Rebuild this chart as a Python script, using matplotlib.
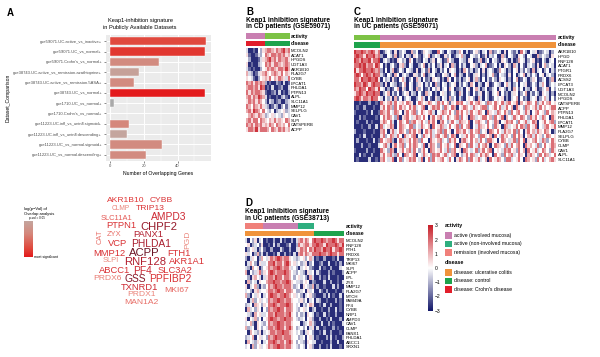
import numpy as np
import matplotlib
matplotlib.use('Agg')
import matplotlib.pyplot as plt
from matplotlib.colors import LinearSegmentedColormap
from matplotlib.patches import Rectangle

plt.rcParams['font.family'] = ['Liberation Sans', 'DejaVu Sans']

# ---------------- data: panel A bar chart ----------------
comparisons = [
    'gse59071.UC.active_vs_inactive+',
    'gse59071.UC_vs_normal+',
    "gse59071.Crohn's_vs_normal+",
    'gse38743.UC.active_vs_remission.azathioprine+',
    'gse38743.UC.active_vs_remission.5ASA+',
    'gse38743.UC_vs_normal+',
    'gse1710.UC_vs_normal+',
    "gse1710.Crohn's_vs_normal+",
    'gse11223.UC.infl_vs_uninfl.sigmoid+',
    'gse11223.UC.infl_vs_uninfl.descending+',
    'gse11223.UC_vs_normal.sigmoid+',
    'gse11223.UC_vs_normal.descending+',
]
n_overlap = [57, 56, 29, 17, 14, 56, 2, 0, 11, 10, 31, 21]
# relative significance of overlap (0 = p 0.05, 1 = most significant, nan = n.s.)
overlap_sig = [0.75, 0.85, 0.3, 0.05, 0.3, 1.0, np.nan, np.nan, 0.35, 0.0, 0.3, 0.3]

# ---------------- data: word cloud ----------------
cloud_genes = ['AKR1B10', 'CYBB', 'CLMP', 'TRIP13', 'SLC11A1', 'AMPD3', 'PTPN1', 'CHPF2',
               'CAT', 'ZYX', 'PANX1', 'PGD', 'VCP', 'PHLDA1', 'MMP12', 'ACPP', 'FTH1',
               'SLPI', 'RNF128', 'AKR1A1', 'ABCC1', 'PF4', 'SLC3A2', 'PRDX6', 'GSS',
               'PPFIBP2', 'TXNRD1', 'MKI67', 'PRDX1', 'MAN1A2']
cloud_freq = [5, 5, 3, 5, 4, 7, 6, 8, 4, 4, 6, 5, 6, 7, 6, 8, 6, 4, 8, 6, 6, 7, 6, 5, 7,
              7, 6, 5, 5, 5]
cloud_sig = [0.45, 0.5, 0.12, 0.5, 0.3, 0.6, 0.5, 0.85, 0.2, 0.2, 0.75, 0.1, 0.5, 0.78,
             0.5, 1.0, 0.5, 0.1, 0.75, 0.5, 0.5, 0.6, 0.5, 0.15, 0.9, 0.5, 0.6, 0.25,
             0.12, 0.2]

# ---------------- data: heatmaps ----------------
b_genes = ['MCOLN2', 'ACAT1', 'HPGDS', 'UGT1A3', 'AKR1B10', 'PLA2G7', 'CYBB', 'LPCAT1',
           'PHLDA1', 'PTPN13', 'ALPL', 'SLC11A1', 'MMP12', 'SELPLG', 'CAV1', 'SLPI',
           'CATSPERB', 'ACPP']
b_activity = ['active (involved mucosa)'] * 8 + ['normal'] * 11
b_disease = ["disease: Crohn's disease"] * 8 + ['disease: control'] * 11
b_rows = [
    "lNNBN.bp rRRrpRrRXrR", "pBNNBlb. RrpRRrRrRpr", ".bNNNBlp rRXrRpRrrRp",
    "pNBNNbl. RrRpRRrprRr", "lBNBNNb. pRrRrpRRrXr", "rlbNBlpr Rp.rRrpR.rp",
    "p.lBNb.p rpR.rpRrplR", "RrRpRrRr bNBNNbBNlNB", "rRRrRpXR NBNlNNBbNNl",
    "RpRrRRrp BNNBbNlNBNb", "rRpRrXRr lNBNNBNblBN", "pRrRpRr. bNlbNBbNNbl",
    "Rr.RrpRp lbNBlbNb.Bl", "rRpXRr.R .lb.Nbl.pbl", ".rRrpRrp bl.pl.lbp.l",
    "rRpRR.Rr p.rpRprp.Rr", "RrRpRrRp rpRr.Rrpr.R", "pRRrXpRR Rr.RrpRrRpr",
]

c_genes = ['AKR1B10', 'HPGD', 'RNF128', 'ACAT1', 'PTGR1', 'PRDX6', 'ACSS2', 'LPCAT3',
           'UGT1A3', 'MCOLN2', 'HPGDS', 'CATSPERB', 'ACPP', 'PTPN13', 'PHLDA1', 'LPCAT1',
           'MMP12', 'PLA2G7', 'SELPLG', 'CYBB', 'CLMP', 'CAV1', 'ALPL', 'SLC11A1']
c_activity = ['normal'] * 11 + ['active (involved mucosa)'] * 74
c_disease = ['disease: control'] * 11 + ['disease: ulcerative colitis'] * 74
c_ctrl = ["XRRXRrRXRpR", "RXRRpXRRXrR", "XRrXRRXpRRX", "RRXRXrRRpXR", "XpRRXRRXRrR",
          "RXR.RXRrXRR", "RRpXRRXRRXp", "XRRrXRpRXRR", "RrXRR.XRRpX", "pRXRrXRRXRR",
          "RXRpRRrXRR.", "NNBNNNbNNBN", "NBNNbNNNBNN", "BNNNNBNlNNB", "NNbNBNNNNBN",
          "NBNNNbNBNNN", "NNNBNNbNNlN", "bNNNBNNNBNN", "NNBNlNNBNNN", "NbNNNBNNlNB",
          "NNNbNNBNNNl", "BNNNNbNNBNN", "NNlNBNNbNNN", "NBNNNNlNNBN"]
c_uc = [
    "NBl.bNpNb. lNNrb.NBp. lbNNR.bN.l BNbr.NlNB. pbNl.NrBb. lNpN.bBlNR .bN.lpNBb. lNb.",
    "bNN.lBrNb. NlbNp.BNl. rNb.lNNpb. NBl.rbNN.l b.NBpNlb.N NrbN.lBNp. bN.lNNrb.l bNp.",
    "Nl.bNBNp.b lNr.NbBN.l NbpN.lNBr. bNN.lbNp.N BlrNb.N.lB Np.bNlNBr. lNb.pNBN.b Nl.N",
    ".NbNl.BNpr bN.lNNb.rN lB.NbpNl.N rbN.BlNN.p bNl.rNBb.N lNp.bNrlN. BNl.bNpN.r b.lN",
    "bN.NlrNB.b N.lbNpNl.B rN.bNlB.Np .lNbNr.BlN b.NpNl.bNB r.lNbN.pNl B.bNrNl.Nb .NlB",
    "lBN.bNr.Nl .bNNplB.rN bl.NBN.pbN .rNlbN.BNl p.NbNl.rBN .lbNpN.Nb. rNlB.bN.pN l.bN",
    "N.blNpBN.r lNb.NrlN.B bNp.lNbNr. N.BlNb.pNl rbN.NlB.bN p.lNbN.rNB .lNbp.NBl. NbrN",
    "bNpN.lbNB. rN.lNbp.Nl B.NrbN.lNb .pNlB.bNr. NlbN.pNB.l bN.rlNb.N. lpNB.bNlr. Nb.l",
    ".lNbNB.rNp bN.lNrb.NB lN.bpNl.Nr .NBblN.pN. rlNb.NBl.N p.bNlNr.B. NlbN.pNBl. rN.b",
    "Nb.rNlB.Nb .pNlbN.BNr l.NbN.plNB .bNrlN.bN. BlpN.bNl.r N.BbNlp.Nb .rNlB.bNp. lNbN",
    "lN.bpNrB.N b.lNNb.rlN .BNpbN.lNr b.NlBN.p.b NrlN.bNB.l .pNbNl.rN. BbNl.pNb.r lN.B",
    "Rp.rRlR.pr .RrpN.Rr.p Rr.lRpR.rB p.RrR.lpR. rRp.bRr.Rp .RlrR.pRNr .pRr.RbpR. rR.p",
    "pR.RrbR.Rp r.RpRl.rRN .pRrR.bRp. RrN.pRr.lR p.rRRb.pR. RlpR.rNRp. bRr.pRlR.r .pRR",
    "RrpR.lRr.N pR.rRb.Rp. rRlN.pRr.R .bRpR.rlR. pRr.NRp.lR r.RpbR.rR. lRpN.rR.pb R.rp",
    ".RpRr.bRNp rR.lpRr.R. NpR.rRl.Rp .rRbR.pNRr l.pRR.rbR. pRNr.lRp.R r.bRpR.lRr .NRp",
    "pRr.RlN.Rp .RbrR.pR.l RpR.NrR.bp R.lRrp.RN. rRp.bR.lRr N.pRrR.bR. pRl.RrN.pR .rRb",
    "Rl.pRrN.Rr p.RRb.lRp. rNR.pRrl.R .pRbR.rRN. lRrp.R.bRp .NRrl.pR.R rbR.pRN.lr R.pR",
    "rR.NpRl.Rr .bRpR.rN.R pRl.rRbR.p N.RrpR.lR. rRb.pNRr.R .lRpr.RbR. NpR.rlRp.R r.Nb",
    "pRb.RrlR.N Rp.rRN.bRp .RlrR.pRb. RrN.lpR.Rr .bRRp.rNR. lRpr.bR.Rp N.rRlR.pb. Rr.p",
    "R.prRbN.Rr lpR.RrbR.. NRp.rRl.bR pR.NrRp.R. rlR.bRRp.N .Rr.lpRbR. RNp.rR.lRr b.Rp",
    ".rRlNpR.rR b.RpRr.lRN pRr.bR.pRl .RNrp.RbR. lR.rRpN.Rr p.bRlR.rR. NRpr.lRb.R .pRr",
    "Rp.bRrN.pR .rRlR.bpR. NRr.pR.lRb rR.pNRr.l. RbpR.rRN.p .lRrR.pbR. rNR.pRl.Rr .bRp",
    "pR.rRlbR.N Rr.pRN.lRp .bRrR.pRl. rRN.bpR.Rr l.RpRr.NR. pbR.rRl.Rp .NrRp.bR.R rl.R",
    "rR.lpRN.Rb .pRrR.lRN. RbR.prR.lR .NpRr.RbR. pRl.rNR.pR r.bRRl.pR. NRr.pbR.Rl .rRp",
]

d_genes = ['MCOLN2', 'RNF128', 'FTH1', 'PRDX6', 'TRIP13', 'MKI67', 'SLPI', 'ACPP', 'LPL',
           'ZYX', 'MMP12', 'PLA2G7', 'MTCH', 'FAM49A', 'PF4', 'CYBB', 'NRP1', 'AMPD3',
           'CAV1', 'CLMP', 'PANX1', 'PHLDA1', 'ABCC1', 'SRXN1']
d_activity = (['remission (involved mucosa)'] * 8 + ['active (involved mucosa)'] * 15
              + ['active (non-involved mucosa)'] * 7 + [None] * 13)
d_disease = ['disease: ulcerative colitis'] * 30 + ['disease: control'] * 13
d_rows = [
    "lN.bpNl. NBNNbNNlNBNNbNl rRpRr.R XRRXRrRRXRpRR",
    ".pNbl.Bp NNBNlNbNNNBlNNb RprRRpR RXRRpXRRRXRrX",
    "Nb.plNb. BNNbNNNlBNNbNNl pRrR.Rr XRRrXRRXpRRXR",
    "pl.NbrBl NbNNBNlNNbNBNlN rRpRrpR RRXRRrRXRRpRR",
    "bNlp.Nbr .lpRrRXRrRRp.lb l.pb.rl NBNNbNNNBNlNN",
    "Nlr.bNpl l.RRXrRRpRXr.pl .blpNb. NNBbNNlNNBNbN",
    "lbNr.pNb .pRrRRXRrRRpl. bNl.p.b BNNlNBNNbNNNl",
    "rN.blpRb p.RXRrRRRXRr.lb .lbNpl. NlBNNNbNBNNNb",
    ".bNpr.lN lpRRrXRRpRRr.b. pl.bNrl NNbNBNlNNNBNN",
    "Nrb.lNp. .rRRXRRrRRXRp.l lb.p.Nb BNNNlNNbNNBNl",
    "pNl.rbNl b.RrRXRRrRRRpbl .Np.lbr NbNNBNNNlNbNN",
    "l.bNprl. .pRRrRXRRpRRr.b bl.Npl. NNlBNbNNNBNNb",
    "rbN.lp.N l.RXRRrRRXRr.pl .bNl.pb BNNNbNlNBNNlN",
    ".Nlrb.pl .lRrRRXRRrRRp.. lpb.Nl. NlbNNBNNNbNBN",
    "bl.Nrp.b p.RRXRrRRRXRr.l .Nlb.rp NNBNlNNbNNNBN",
    "Nrl.bp.N .bRrRRXRRpRRr.l b.pl.Nb lNNBNNbNNlNBN",
    ".lbNr.pl l.RRrXRRRrRXp.b .blNp.l NBNNlNBNNbNNN",
    "pN.lrb.N .pRXRRrRRXRRr.l bl.N.pb NNbNNBNlNNNbN",
    "l.rbNp.l b.RrRRXRRrRRp.. .Nbl.rl BNNlNNbNBNNNl",
    "rbl.Np.b .lRRrRXRRpRXr.b l.b.Nlp NlNNBNNNbNBNN",
    ".Nr.lbpN l.pRRrRRXRRrp.l .bNlp.b NNBNlNNbNNNBN",
    "bl.rN.pl .bRrRXRRrRRRp.. bl.N.pl NBNNNbNlNBNNb",
    "Nr.lbp.N l.RRXRrRRpRXr.b .lbNp.l lNNBNNNbNNlNN",
    "l.Nrb.pl .pRrRRXRRrRRp.l b.lN.pb NNbNNBNlNNNBN",
]
levels = {'N': -2.7, 'B': -1.9, 'b': -1.1, 'l': -0.45, '.': 0.0,
          'p': 0.45, 'r': 1.1, 'R': 1.9, 'X': 2.7}

legend_activity = ['active (involved mucosa)', 'active (non-involved mucosa)',
                   'remission (involved mucosa)']
legend_disease = ['disease: ulcerative colitis', 'disease: control',
                  "disease: Crohn's disease"]

# ---------------- styling ----------------
ann_colors = {
    'active (involved mucosa)': '#c97fb1',
    'active (non-involved mucosa)': '#2fae7f',
    'remission (involved mucosa)': '#f0807a',
    'normal': '#7cc245',
    'disease: ulcerative colitis': '#f0933b',
    'disease: control': '#1ea34c',
    "disease: Crohn's disease": '#e21e2b',
    None: '#ffffff',
}
hm_cmap = LinearSegmentedColormap.from_list('hm', ['#13186a', '#ffffff', '#c81f29'])
sig_cmap = LinearSegmentedColormap.from_list(
    'sig', [(0, '#c4a59e'), (0.35, '#d5877b'), (0.75, '#e04a3e'), (1, '#e31a1c')])
wc_cmap = LinearSegmentedColormap.from_list(
    'wc', [(0, '#eea093'), (0.45, '#e03535'), (0.7, '#c02030'), (1, '#6c1424')])

W, H = 600, 357
fig = plt.figure(figsize=(6, 3.57), dpi=100)

ov = fig.add_axes([0, 0, 1, 1])
ov.set_xlim(0, W)
ov.set_ylim(H, 0)
ov.axis('off')


def box(x0, y0, x1, y1):
    return fig.add_axes([x0 / W, 1 - y1 / H, (x1 - x0) / W, (y1 - y0) / H])


def decode(rows, ncol):
    out = []
    for r in rows:
        r = (r.replace(' ', '') + '.' * ncol)[:ncol]
        out.append([levels[c] for c in r])
    return np.array(out)


# ---------------- A: bar chart ----------------
ax = box(105.5, 35, 211, 161)
ypos = np.arange(len(comparisons))
bar_cols = ['#a9a9a9' if np.isnan(s) else sig_cmap(s) for s in overlap_sig]
ax.barh(ypos, n_overlap, height=0.8, color=bar_cols, edgecolor='white', linewidth=0.3,
        zorder=3)
ax.set_facecolor('#ebebeb')
ax.set_ylim(len(comparisons) - 0.4, -0.6)
xmax = max(n_overlap)
ax.set_xlim(-0.05 * xmax, 1.05 * xmax)
ax.set_xticks([0, 20, 40])
ax.set_xticks([10, 30, 50], minor=True)
ax.set_yticks(ypos)
ax.set_yticklabels(comparisons)
ax.grid(which='major', color='white', lw=0.7)
ax.grid(which='minor', axis='x', color='white', lw=0.35)
ax.set_axisbelow(True)
for s in ax.spines.values():
    s.set_visible(False)
ax.tick_params(which='major', length=1.5, width=0.4, color='#333333',
               labelsize=3.0, pad=1, labelcolor='#4d4d4d')
ax.tick_params(which='minor', length=0)
ax.set_xlabel('Number of Overlapping Genes', fontsize=3.7, labelpad=1.5)
ax.set_ylabel('Dataset_Comparison', fontsize=3.7, labelpad=2)

ov.text(140, 20.5, 'Keap1-inhibition signature', ha='center', va='center', fontsize=4.1)
ov.text(140, 27, 'in Publicly Available Datasets', ha='center', va='center', fontsize=4.1)

# ---------------- word cloud ----------------
cloud_layout = {
    'AKR1B10': (126, 201, 0), 'CYBB': (161, 201, 0), 'CLMP': (120.5, 209, 0),
    'TRIP13': (150.5, 209, 0), 'SLC11A1': (116, 218, 0), 'AMPD3': (168.5, 217.5, 0),
    'PTPN1': (121.5, 226, 0), 'CHPF2': (159, 226.5, 0), 'CAT': (100, 237, 90),
    'ZYX': (114.5, 234, 0), 'PANX1': (148, 234.5, 0), 'PGD': (188, 240, 90),
    'VCP': (117.5, 243.5, 0), 'PHLDA1': (151, 244, 0), 'MMP12': (109, 253, 0),
    'ACPP': (144.5, 253, 0), 'FTH1': (179, 253, 0), 'SLPI': (110.5, 261, 0),
    'RNF128': (145, 262, 0), 'AKR1A1': (186.5, 262, 0), 'ABCC1': (114.5, 270.5, 0),
    'PF4': (142.5, 270.5, 0), 'SLC3A2': (174.5, 270.5, 0), 'PRDX6': (107, 279, 0),
    'GSS': (135, 279, 0), 'PPFIBP2': (170, 279, 0), 'TXNRD1': (139.5, 287.5, 0),
    'MKI67': (177, 290, 0), 'PRDX1': (142, 294.5, 0), 'MAN1A2': (141, 302, 0),
}
for g, f, s in zip(cloud_genes, cloud_freq, cloud_sig):
    x, y, rot = cloud_layout[g]
    ov.text(x, y, g, ha='center', va='center', rotation=rot,
            fontsize=2.8 + 0.66 * f, color=wc_cmap(s))

ov.text(24, 209, 'log(p\u2212Val) of', fontsize=3, va='center')
ov.text(24, 214, 'Overlap analysis', fontsize=3, va='center')
ov.text(29, 218.5, 'p-val = 0.05', fontsize=2.2, va='center')
ov.text(34, 257, 'most significant', fontsize=2.5, va='center')
gax = box(24, 221, 32.5, 257)
gax.imshow(np.linspace(0, 1, 100)[:, None], cmap=sig_cmap, aspect='auto')
gax.axis('off')

# ---------------- heatmaps ----------------
def heatmap(x0, y0, x1, y1, rows, genes, act, dis, title, letter, ly):
    ncol = len(act)
    mat = decode(rows, ncol)
    hax = box(x0, y0, x1, y1)
    hax.imshow(mat, cmap=hm_cmap, vmin=-3, vmax=3, aspect='auto', interpolation='nearest')
    hax.set_xticks([])
    hax.set_yticks(range(len(genes)))
    hax.set_yticklabels(genes)
    hax.yaxis.tick_right()
    hax.tick_params(length=0, labelsize=3.1, pad=1.2)
    for s in hax.spines.values():
        s.set_visible(False)
    bar_h = 5.6
    for k, (lab, vals) in enumerate([('activity', act), ('disease', dis)]):
        top = y0 - 15 + k * 7.5
        aax = box(x0, top, x1, top + bar_h)
        rgb = np.array([[matplotlib.colors.to_rgb(ann_colors[v]) for v in vals]])
        aax.imshow(rgb, aspect='auto', interpolation='nearest')
        aax.axis('off')
        ov.text(x1 + 2, top + bar_h / 2, lab, fontsize=3.6, fontweight='bold',
                va='center')
    ov.text(x0, ly, letter, fontsize=7, fontweight='bold', va='center')
    ov.text(x0, ly + 8.5, title[0], fontsize=4.8, fontweight='bold', va='center')
    ov.text(x0, ly + 15, title[1], fontsize=4.8, fontweight='bold', va='center')


heatmap(246, 48.3, 289, 131.7, b_rows, b_genes, b_activity, b_disease,
        ('Keap1 inhibition signature', 'in CD patients (GSE59071)'), 'B', 12)
heatmap(354, 49.5, 556, 162, [a + ' ' + b for a, b in zip(c_ctrl, c_uc)], c_genes,
        c_activity, c_disease,
        ('Keap1 inhibition signature', 'in UC patients (GSE59071)'), 'C', 12)
heatmap(245, 238.3, 344, 349.3, d_rows, d_genes, d_activity, d_disease,
        ('Keap1 inhibition signature', 'in UC patients (GSE38713)'), 'D', 203)

ov.text(7, 13, 'A', fontsize=7, fontweight='bold', va='center')

# ---------------- heatmap legends ----------------
cax = box(428, 225.3, 432.5, 310.7)
cax.imshow(np.linspace(3, -3, 200)[:, None], cmap=hm_cmap, vmin=-3, vmax=3,
           aspect='auto', extent=[0, 1, -3, 3])
cax.set_xticks([])
cax.yaxis.tick_right()
cax.set_yticks(range(-3, 4))
cax.tick_params(length=0, labelsize=3.6, pad=1.5)
for s in cax.spines.values():
    s.set_visible(False)

def legend_block(y, head, items):
    ov.text(445, y, head, fontsize=3.8, fontweight='bold', va='center')
    for i, it in enumerate(items):
        yy = y + 6 + i * 8.5
        ov.add_patch(Rectangle((444.5, yy), 7.5, 6.5, color=ann_colors[it], lw=0))
        ov.text(454, yy + 3.3, it, fontsize=3.7, va='center')

legend_block(226, 'activity', legend_activity)
legend_block(263, 'disease', legend_disease)

fig.savefig('out.png', dpi=100)
